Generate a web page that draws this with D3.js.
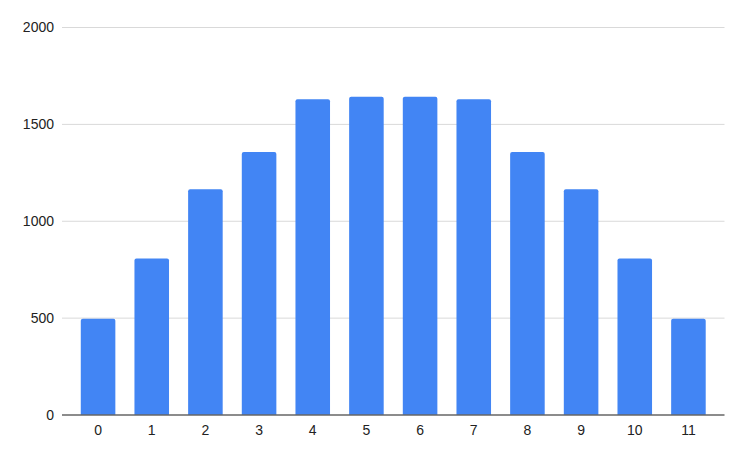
<!DOCTYPE html>
<html>
<head>
<meta charset="utf-8">
<script src="https://cdn.jsdelivr.net/npm/d3@7"></script>
<style>
  body { margin: 0; background: #fff; }
  svg { display: block; font-family: "Liberation Sans", Arial, sans-serif; }
</style>
</head>
<body>
<svg id="chart" width="746" height="458"></svg>
<script>
// chart data
const categories = ["0", "1", "2", "3", "4", "5", "6", "7", "8", "9", "10", "11"];
const values = [497, 808, 1165, 1358, 1630, 1642, 1642, 1630, 1358, 1165, 808, 497];
const yTicks = [0, 500, 1000, 1500, 2000];

const svg = d3.select("#chart"),
    margin = { top: 27.5, right: 21.5, bottom: 43, left: 62 },
    width = 746 - margin.left - margin.right,
    height = 458 - margin.top - margin.bottom;

const g = svg.append("g")
    .attr("transform", `translate(${margin.left},${margin.top})`);

const x = d3.scaleBand()
    .domain(categories)
    .range([0, width])
    .paddingInner(0.356)
    .paddingOuter(0.35);

const y = d3.scaleLinear()
    .domain([0, 2000])
    .range([height, 0]);

// gridlines
g.selectAll(".grid")
    .data(yTicks.filter(d => d > 0))
    .enter().append("line")
    .attr("class", "grid")
    .attr("x1", 0)
    .attr("x2", width)
    .attr("y1", d => y(d))
    .attr("y2", d => y(d))
    .style("stroke", "#d9d9d9")
    .style("stroke-width", 1);

// y labels
g.selectAll(".ylabel")
    .data(yTicks)
    .enter().append("text")
    .attr("class", "ylabel")
    .attr("x", -8)
    .attr("y", d => y(d))
    .attr("dy", "0.35em")
    .style("text-anchor", "end")
    .style("font-size", "14px")
    .style("fill", "#222")
    .text(d => d);

// bars with rounded top corners
const r = 2;
g.selectAll(".bar")
    .data(values)
    .enter().append("path")
    .attr("class", "bar")
    .attr("d", (d, i) => {
        const x0 = x(categories[i]), w = x.bandwidth(),
            y0 = y(d), y1 = y(0);
        return `M${x0},${y1}V${y0 + r}Q${x0},${y0} ${x0 + r},${y0}` +
            `H${x0 + w - r}Q${x0 + w},${y0} ${x0 + w},${y0 + r}V${y1}Z`;
    })
    .style("fill", "#4285f4");

// x axis line
g.append("line")
    .attr("x1", 0)
    .attr("x2", width)
    .attr("y1", y(0))
    .attr("y2", y(0))
    .style("stroke", "#666")
    .style("stroke-width", 1.3);

// x labels
g.selectAll(".xlabel")
    .data(categories)
    .enter().append("text")
    .attr("class", "xlabel")
    .attr("x", d => x(d) + x.bandwidth() / 2)
    .attr("y", y(0) + 15)
    .attr("dy", "0.35em")
    .style("text-anchor", "middle")
    .style("font-size", "14px")
    .style("fill", "#222")
    .text(d => d);
</script>
</body>
</html>
